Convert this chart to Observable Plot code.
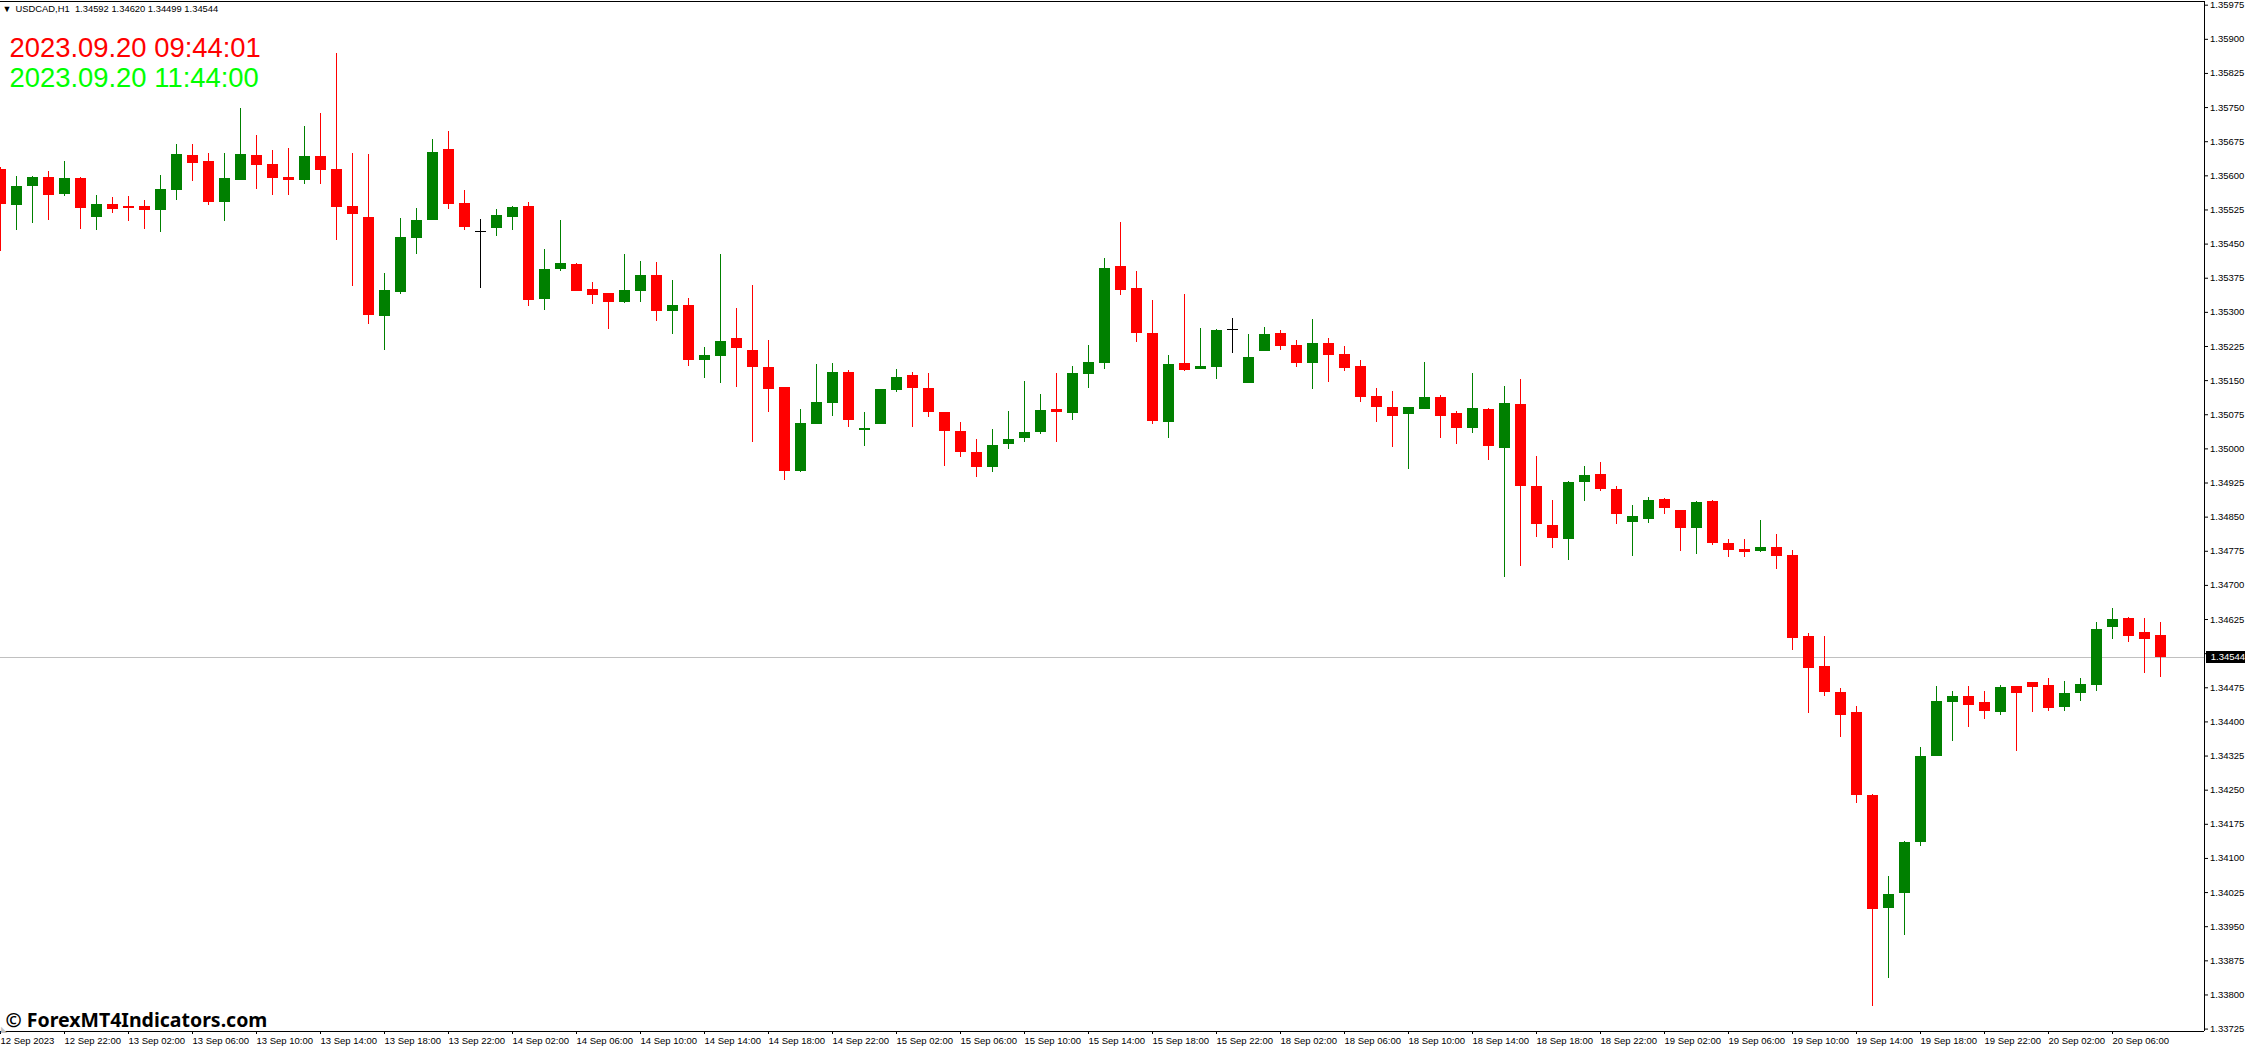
<!DOCTYPE html>
<html>
<head>
<meta charset="utf-8">
<style>html,body{margin:0;padding:0;background:#fff;overflow:hidden}svg{display:block}</style>
<script src="https://cdn.jsdelivr.net/npm/d3@7"></script>
<script src="https://cdn.jsdelivr.net/npm/@observablehq/plot@0.6"></script>
</head>
<body>
<div id="chart"></div>
<script>
const symbolLine = "USDCAD,H1\u00a0\u00a01.34592 1.34620 1.34499 1.34544";
const timeLocal = "2023.09.20 09:44:01";
const timeServer = "2023.09.20 11:44:00";
const watermark = "\u00a9 ForexMT4Indicators.com";
const currentPrice = 1.34544;

const open = [1.35616,1.35538,1.35579,1.35599,1.35561,1.35596,1.35511,1.35539,1.35535,1.35535,1.35526,1.35570,1.35647,1.35634,1.35544,1.35592,1.35647,1.35627,1.35599,1.35592,1.35645,1.35616,1.35535,1.35511,1.35293,1.35346,1.35465,1.35504,1.35660,1.35541,1.35480,1.35486,1.35511,1.35535,1.35330,
1.35396,1.35407,1.35352,1.35344,1.35324,1.35348,1.35383,1.35304,1.35317,1.35196,1.35205,1.35245,1.35218,1.35181,1.35137,1.34952,1.35056,1.35102,1.35170,1.35043,1.35056,1.35131,1.35163,1.35135,1.35082,1.35040,1.34994,1.34961,1.35012,1.35025,1.35038,1.35089,1.35080,1.35166,1.35190,
1.35403,1.35355,1.35256,1.35060,1.35190,1.35177,1.35181,1.35264,1.35146,1.35216,1.35256,1.35229,1.35190,1.35234,1.35210,1.35183,1.35117,1.35093,1.35078,1.35089,1.35115,1.35080,1.35047,1.35089,1.35003,1.35100,1.34920,1.34834,1.34803,1.34928,1.34946,1.34913,1.34840,1.34847,1.34891,
1.34866,1.34828,1.34886,1.34794,1.34781,1.34776,1.34785,1.34768,1.34591,1.34523,1.34466,1.34422,1.34241,1.33992,1.34025,1.34138,1.34327,1.34444,1.34457,1.34444,1.34422,1.34479,1.34488,1.34482,1.34433,1.34464,1.34483,1.34609,1.34629,1.34598,1.34592];

const high = [1.35621,1.35601,1.35601,1.35612,1.35634,1.35599,1.35559,1.35555,1.35557,1.35548,1.35603,1.35671,1.35671,1.35651,1.35651,1.35750,1.35691,1.35658,1.35662,1.35711,1.35739,1.35871,1.35651,1.35649,1.35388,1.35508,1.35530,1.35682,1.35700,1.35570,1.35506,1.35528,1.35535,1.35544,1.35440,
1.35504,1.35410,1.35368,1.35344,1.35429,1.35414,1.35412,1.35372,1.35333,1.35225,1.35429,1.35311,1.35361,1.35240,1.35137,1.35089,1.35188,1.35190,1.35174,1.35082,1.35133,1.35177,1.35170,1.35168,1.35082,1.35060,1.35023,1.35045,1.35084,1.35150,1.35122,1.35168,1.35183,1.35229,1.35421,
1.35500,1.35392,1.35328,1.35207,1.35341,1.35267,1.35265,1.35289,1.35254,1.35269,1.35262,1.35240,1.35287,1.35245,1.35227,1.35196,1.35135,1.35128,1.35093,1.35192,1.35120,1.35084,1.35168,1.35091,1.35139,1.35155,1.34985,1.34889,1.34931,1.34963,1.34972,1.34920,1.34878,1.34895,1.34893,
1.34866,1.34886,1.34889,1.34803,1.34803,1.34845,1.34814,1.34778,1.34596,1.34591,1.34475,1.34437,1.34243,1.34063,1.34140,1.34347,1.34479,1.34468,1.34479,1.34470,1.34482,1.34479,1.34488,1.34497,1.34490,1.34498,1.34620,1.34651,1.34631,1.34629,1.34620];

const low = [1.35437,1.35481,1.35497,1.35504,1.35557,1.35484,1.35481,1.35519,1.35502,1.35484,1.35478,1.35548,1.35590,1.35537,1.35502,1.35592,1.35572,1.35559,1.35559,1.35583,1.35583,1.35460,1.35359,1.35276,1.35218,1.35341,1.35429,1.35504,1.35528,1.35482,1.35355,1.35469,1.35482,1.35315,1.35306,
1.35392,1.35348,1.35320,1.35265,1.35322,1.35324,1.35282,1.35254,1.35183,1.35157,1.35146,1.35137,1.35016,1.35082,1.34933,1.34950,1.35056,1.35073,1.35049,1.35007,1.35056,1.35126,1.35049,1.35071,1.34963,1.34983,1.34939,1.34950,1.35001,1.35016,1.35034,1.35016,1.35065,1.35135,1.35177,
1.35339,1.35236,1.35056,1.35025,1.35172,1.35177,1.35155,1.35212,1.35146,1.35216,1.35218,1.35181,1.35133,1.35148,1.35172,1.35104,1.35060,1.35005,1.34957,1.35089,1.35025,1.35012,1.35036,1.34977,1.34720,1.34744,1.34807,1.34783,1.34757,1.34887,1.34909,1.34836,1.34766,1.34838,1.34858,
1.34777,1.34771,1.34790,1.34764,1.34764,1.34774,1.34737,1.34560,1.34420,1.34457,1.34367,1.34223,1.33777,1.33838,1.33932,1.34129,1.34327,1.34360,1.34391,1.34407,1.34417,1.34338,1.34422,1.34426,1.34426,1.34446,1.34468,1.34583,1.34576,1.34508,1.34499];

const close = [1.35540,1.35579,1.35599,1.35559,1.35596,1.35530,1.35539,1.35528,1.35530,1.35526,1.35572,1.35649,1.35629,1.35544,1.35596,1.35649,1.35625,1.35596,1.35592,1.35645,1.35614,1.35533,1.35517,1.35295,1.35350,1.35467,1.35504,1.35653,1.35539,1.35489,1.35480,1.35515,1.35533,1.35328,1.35396,
1.35410,1.35348,1.35339,1.35324,1.35350,1.35383,1.35304,1.35317,1.35196,1.35207,1.35238,1.35223,1.35181,1.35133,1.34952,1.35058,1.35104,1.35170,1.35065,1.35047,1.35133,1.35159,1.35135,1.35082,1.35040,1.34994,1.34961,1.35010,1.35023,1.35038,1.35086,1.35082,1.35168,1.35192,1.35399,
1.35350,1.35256,1.35062,1.35188,1.35174,1.35183,1.35262,1.35264,1.35203,1.35254,1.35227,1.35190,1.35234,1.35207,1.35179,1.35115,1.35093,1.35073,1.35093,1.35115,1.35073,1.35047,1.35091,1.35007,1.35102,1.34920,1.34836,1.34805,1.34928,1.34944,1.34913,1.34858,1.34854,1.34889,1.34871,
1.34828,1.34884,1.34794,1.34778,1.34774,1.34785,1.34765,1.34585,1.34519,1.34466,1.34417,1.34241,1.33990,1.34023,1.34138,1.34327,1.34448,1.34457,1.34439,1.34424,1.34477,1.34464,1.34477,1.34431,1.34464,1.34485,1.34605,1.34627,1.34591,1.34583,1.34544];

const priceTicks = [1.35975,1.35900,1.35825,1.35750,1.35675,1.35600,1.35525,1.35450,1.35375,1.35300,1.35225,1.35150,1.35075,1.35000,1.34925,1.34850,1.34775,1.34700,1.34625,1.34550,1.34475,1.34400,1.34325,1.34250,1.34175,1.34100,1.34025,1.33950,1.33875,1.33800,1.33725];

const timeLabels = ["12 Sep 2023","12 Sep 22:00","13 Sep 02:00","13 Sep 06:00","13 Sep 10:00","13 Sep 14:00","13 Sep 18:00","13 Sep 22:00","14 Sep 02:00","14 Sep 06:00","14 Sep 10:00","14 Sep 14:00","14 Sep 18:00","14 Sep 22:00","15 Sep 02:00","15 Sep 06:00","15 Sep 10:00","15 Sep 14:00","15 Sep 18:00","15 Sep 22:00","18 Sep 02:00","18 Sep 06:00","18 Sep 10:00","18 Sep 14:00","18 Sep 18:00","18 Sep 22:00","19 Sep 02:00","19 Sep 06:00","19 Sep 10:00","19 Sep 14:00","19 Sep 18:00","19 Sep 22:00","20 Sep 02:00","20 Sep 06:00"];
const timeTickBars = timeLabels.map((_, i) => i * 4);

const UP = "#008000", DOWN = "#ff0000", FLAT = "#000000";
const bars = open.map((o, i) => ({
  bar: i, open: o, high: high[i], low: low[i], close: close[i],
  color: close[i] > o ? UP : close[i] < o ? DOWN : FLAT
}));
const lastBarEdge = 137.75;      // right end of the plotting area, in bar numbers
const halfBody = 5.5 / 16;

const chart = Plot.plot({
  width: 2245,
  height: 1049,
  marginTop: 1,
  marginRight: 41,
  marginBottom: 18,
  marginLeft: 0,
  style: {fontFamily: "'Liberation Sans', Arial, sans-serif", fontSize: "9.5px", background: "#fff", color: "#000"},
  x: {type: "linear", domain: [0, lastBarEdge]},
  y: {type: "linear", domain: [1.337219, 1.359853]},
  marks: [
    Plot.ruleY([currentPrice], {x1: 0, x2: lastBarEdge, stroke: "#c0c0c0", shapeRendering: "crispEdges"}),
    Plot.ruleX(bars, {x: "bar", y1: "low", y2: "high", stroke: "color", strokeWidth: 1, shapeRendering: "crispEdges"}),
    Plot.ruleX(bars.filter(d => d.open !== d.close), {x: "bar", y1: "open", y2: "close", stroke: "color", strokeWidth: 11, shapeRendering: "crispEdges"}),
    Plot.ruleY(bars.filter(d => d.open === d.close), {y: "close", x1: d => d.bar - halfBody, x2: d => d.bar + halfBody, stroke: "color", strokeWidth: 1, shapeRendering: "crispEdges"}),

    Plot.axisX({ticks: timeTickBars, tickFormat: d => timeLabels[d / 4], tickSize: 3, tickPadding: 3, textAnchor: "start", label: null, fontSize: 9.5}),
    Plot.axisY({anchor: "right", ticks: priceTicks, tickFormat: d => d.toFixed(5), tickSize: 3, tickPadding: 2.5, dy: -1, label: null, fontSize: 9.5}),

    Plot.ruleX([lastBarEdge], {stroke: "#000", strokeWidth: 1, shapeRendering: "crispEdges"}),
    Plot.ruleY([1.337219, 1.359853], {stroke: "#000", strokeWidth: 1, shapeRendering: "crispEdges"}),

    Plot.ruleY([currentPrice], {x1: 137.875, x2: 140.4, stroke: "#000", strokeWidth: 12, shapeRendering: "crispEdges"}),
    Plot.text([currentPrice.toFixed(5)], {x: 138.14, y: currentPrice, textAnchor: "start", fill: "#fff", fontSize: 9.5}),

    Plot.text([symbolLine], {frameAnchor: "top-left", dx: 15, dy: 4, textAnchor: "start", lineAnchor: "top", fill: "#000", fontSize: 9.4}),
    Plot.text(["\u25bc"], {frameAnchor: "top-left", dx: 2, dy: 4, textAnchor: "start", lineAnchor: "top", fill: "#000", fontSize: 9}),
    Plot.text([timeLocal], {frameAnchor: "top-left", dx: 9, dy: 47, textAnchor: "start", lineAnchor: "middle", fill: "#ff0000", fontSize: 27.4}),
    Plot.text([timeServer], {frameAnchor: "top-left", dx: 9, dy: 77, textAnchor: "start", lineAnchor: "middle", fill: "#00ff00", fontSize: 27.4}),
    Plot.text([watermark], {frameAnchor: "bottom-left", dx: 5, dy: -11, textAnchor: "start", lineAnchor: "middle", fill: "#000", fontSize: 19.5, fontWeight: "bold", fontFamily: "'Noto Sans', sans-serif"}),
    Plot.text(["\u25e3"], {frameAnchor: "bottom-left", dx: 0, dy: 0, textAnchor: "start", lineAnchor: "bottom", fill: "#c0c0c0", fontSize: 8})
  ]
});
document.getElementById("chart").appendChild(chart);
</script>
</body>
</html>
